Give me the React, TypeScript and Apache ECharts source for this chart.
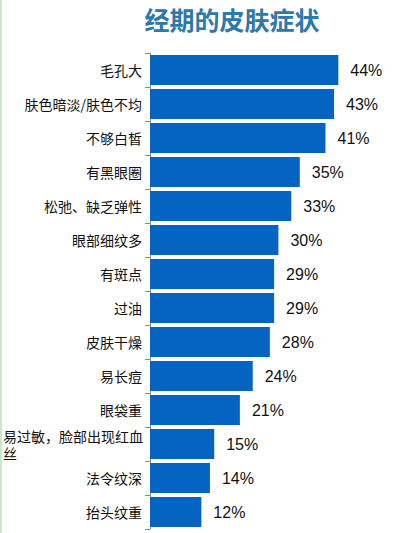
import React, { useEffect, useRef } from "react";
import * as echarts from "echarts";

const categories = [
  "毛孔大",
  "肤色暗淡/肤色不均",
  "不够白皙",
  "有黑眼圈",
  "松弛、缺乏弹性",
  "眼部细纹多",
  "有斑点",
  "过油",
  "皮肤干燥",
  "易长痘",
  "眼袋重",
  "易过敏，脸部出现红血丝",
  "法令纹深",
  "抬头纹重",
];
const values = [44, 43, 41, 35, 33, 30, 29, 29, 28, 24, 21, 15, 14, 12];
const titleText = "经期的皮肤症状";

export default function App() {
  const ref = useRef<HTMLDivElement>(null);
  useEffect(() => {
    if (!ref.current) return;
    const chart = echarts.init(ref.current, null, { renderer: "svg" });
    chart.setOption({
      animation: false,
      backgroundColor: "#ffffff",
      title: {
        text: titleText,
        left: 227,
        top: 1,
        textAlign: "center",
        textStyle: {
          fontFamily: "Noto Sans CJK SC",
          fontSize: 25,
          fontWeight: "bold",
          color: "#2e78aa",
        },
      },
      graphic: [
        {
          type: "rect",
          shape: { x: 0, y: 0, width: 2, height: 533 },
          style: { fill: "#c9e8c4" },
        },
      ],
      grid: { left: 150, right: 47, top: 53, bottom: 4 },
      xAxis: {
        type: "value",
        min: 0,
        max: 50,
        show: false,
      },
      yAxis: {
        type: "category",
        inverse: true,
        data: categories,
        axisLine: { show: true, lineStyle: { color: "#8c8c8c", width: 1 } },
        axisTick: { show: true, length: 5, lineStyle: { color: "#8c8c8c" } },
        axisLabel: {
          margin: 8,
          fontFamily: "Noto Sans CJK SC",
          fontSize: 14,
          lineHeight: 17,
          color: "#111",
          formatter: (v: string) => {
            if (v.length > 10) {
              return `{w|${v.slice(0, 10)}}\n{w|${v.slice(10)}}`;
            }
            return v;
          },
          rich: {
            w: {
              width: 139,
              align: "left",
              fontFamily: "Noto Sans CJK SC",
              fontSize: 14,
              lineHeight: 17,
              color: "#111",
            },
          },
        },
      },
      series: [
        {
          type: "bar",
          data: values,
          barCategoryGap: "12%",
          itemStyle: { color: "#0563c1" },
          label: {
            show: true,
            position: "right",
            distance: 12,
            formatter: "{c}%",
            fontFamily: "Liberation Sans",
            fontSize: 16,
            color: "#111",
          },
        },
      ],
    });
    return () => chart.dispose();
  }, []);
  return (
    <div
      ref={ref}
      style={{ position: "absolute", left: 0, top: 0, width: 411, height: 533 }}
    />
  );
}
